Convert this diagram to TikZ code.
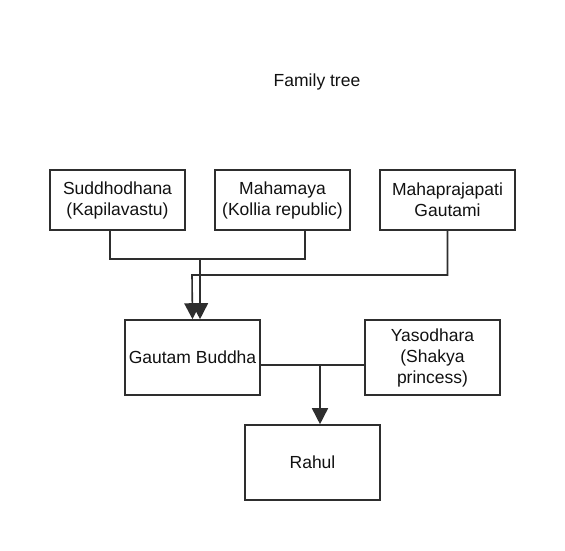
\documentclass[tikz,border=0pt]{standalone}
\usepackage{fontspec}
\setmainfont{Liberation Sans}
\usetikzlibrary{positioning,calc,arrows.meta}
\definecolor{boxgray}{HTML}{2E2E2E}
\definecolor{textgray}{HTML}{111111}

\begin{document}
\begin{tikzpicture}[x=1pt,y=-1pt,
    person/.style={draw=boxgray, line width=1.6pt, minimum width=135pt, minimum height=60pt,
        align=center, text=textgray, font=\fontsize{17.5}{21}\selectfont, inner sep=1pt},
    link/.style={draw=boxgray, line width=1.6pt},
    arr/.style={link, -{Triangle[width=16pt,length=16pt]}}]
    \useasboundingbox (0,0) rectangle (565,550);

    % Title
    \node[text=textgray, font=\fontsize{17.5}{21}\selectfont] (title) at (317,82) {Family tree};

    % Parents
    \node[person] (sud) at (117.5,200) {Suddhodhana\\(Kapilavastu)};
    \node[person] (maha) at (282.5,200) {Mahamaya\\(Kollia republic)};
    \node[person] (praj) at (447.5,200) {Mahaprajapati\\Gautami};

    % Children
    \node[person, minimum height=75pt] (buddha) at (192.5,357.5) {Gautam Buddha};
    \node[person, minimum height=75pt] (yaso) at (432.5,357.5) {Yasodhara\\(Shakya\\princess)};
    \node[person, minimum height=75pt] (rahul) at (312.5,462.5) {Rahul};

    % Junctions
    \coordinate (j1) at (200,259);
    \coordinate (j2) at (320,365);

    % Suddhodhana + Mahamaya
    \draw[link] ([xshift=-7.5pt]sud.south) |- (j1) -| ([xshift=22.5pt]maha.south);
    \draw[arr] (j1) -- (j1 |- buddha.north);

    % Mahaprajapati
    \draw[arr] (praj.south) |- (192,275) -- (buddha.north);

    % Gautam Buddha + Yasodhara
    \draw[link] ([yshift=-7.5pt]buddha.east) -- ([yshift=-7.5pt]yaso.west);
    \draw[arr] (j2) -- (j2 |- rahul.north);
\end{tikzpicture}
\end{document}
